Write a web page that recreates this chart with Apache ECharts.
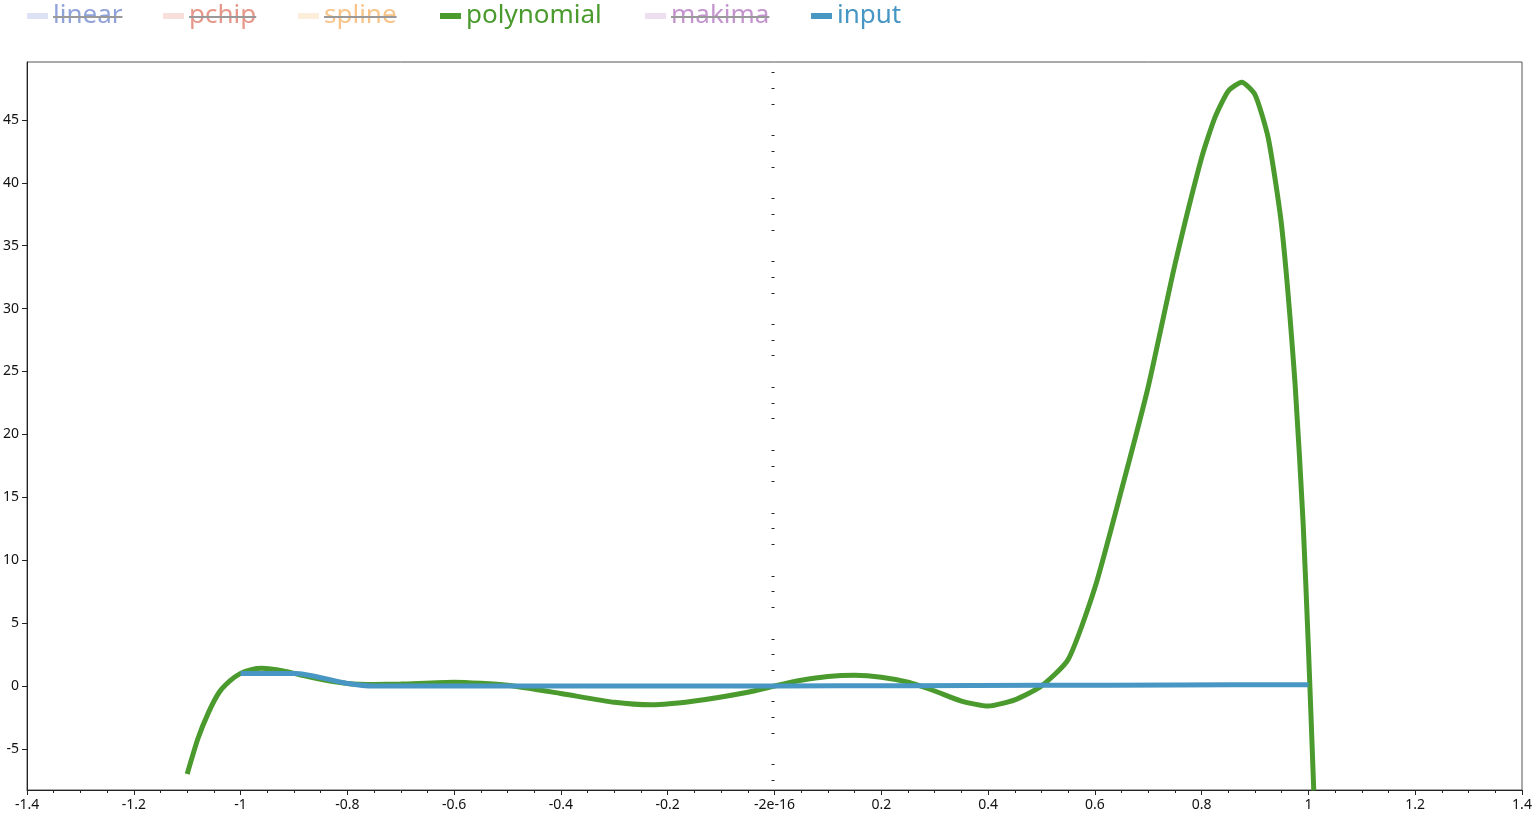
<!DOCTYPE html><html><head><meta charset="utf-8"><script src="https://cdn.jsdelivr.net/npm/echarts@6/dist/echarts.min.js"></script>
<style>html,body{margin:0;padding:0;background:#fff}#c{width:1536px;height:818px}</style></head><body><div id="c"></div><script>
const inputX=[-1,-0.9,-0.8,-0.75,-0.5,-0.25,0,0.25,0.5,0.75,1];
const inputY=[1,1,0.2,0,0,0,0,0.02,0.05,0.08,0.1];
const polyX=[-1.1,-1.08,-1.06,-1.04,-1.02,-1,-0.98,-0.96,-0.92,-0.88,-0.84,-0.8,-0.75,-0.7,-0.6,-0.5,-0.4,-0.3,-0.23,-0.15,-0.05,0,0.05,0.1,0.15,0.2,0.25,0.3,0.35,0.4,0.45,0.5,0.55,0.6,0.65,0.7,0.75,0.8,0.825,0.85,0.875,0.9,0.925,0.95,0.975,0.99,1,1.01];
const polyY=[-7.0,-4.2,-2.1,-0.5,0.4,1.0,1.3,1.4,1.2,0.8,0.45,0.2,0.12,0.15,0.3,0.05,-0.6,-1.3,-1.5,-1.2,-0.5,0,0.45,0.75,0.85,0.7,0.3,-0.4,-1.2,-1.6,-1.1,0,2.1,7.8,15.6,23.8,33.5,42.0,45.2,47.3,48.0,47.0,43.5,36.5,24.0,13.0,3.0,-8.3];
const yMajor=[-5,0,5,10,15,20,25,30,35,40,45];
const yMinor=[-7.5,-6.25,-3.75,-2.5,-1.25,1.25,2.5,3.75,6.25,7.5,8.75,11.25,12.5,13.75,16.25,17.5,18.75,21.25,22.5,23.75,26.25,27.5,28.75,31.25,32.5,33.75,36.25,37.5,38.75,41.25,42.5,43.75,46.25,47.5,48.75];
const legendNames=['linear','pchip','spline','polynomial','makima','input'];
const legendColors=['#5470c6','#d95f4b','#f5a54a','#4a9a2e','#a45bb5','#4796c4'];
const legendOn=[false,false,false,true,false,true];
const legendX=[27,163,298,440,645,811];
const chart=echarts.init(document.getElementById('c'));
const gfx=[];
const ctx=document.createElement('canvas').getContext('2d');ctx.font='26px "Noto Sans"';
legendNames.forEach((n,i)=>{
 const on=legendOn[i];
 gfx.push({type:'rect',shape:{x:legendX[i],y:13,width:21,height:6},style:{fill:legendColors[i],opacity:on?1:0.2}});
 gfx.push({type:'text',x:legendX[i]+26,y:16,style:{text:n,font:'26px "Noto Sans"',fill:legendColors[i],opacity:on?1:0.65,verticalAlign:'middle'}});
 if(!on){const w=ctx.measureText(n).width;gfx.push({type:'line',shape:{x1:legendX[i]+26,y1:17,x2:legendX[i]+26+w,y2:17},style:{stroke:'#999',lineWidth:2}});}
});
const fmt=v=>{if(Math.abs(v)<1e-9)return '-2e-16';return String(+v.toFixed(2));};
const lab={color:'#111',fontSize:14,fontFamily:'Noto Sans'};
chart.setOption({
 animation:false,
 grid:{left:27,right:14,top:62,bottom:28,show:true,borderColor:'#555',borderWidth:1},
 xAxis:{type:'value',min:-1.4,max:1.4,interval:0.2,axisLine:{lineStyle:{color:'#222'},onZero:false},axisTick:{lineStyle:{color:'#222'},length:5},minorTick:{show:true,splitNumber:4,length:3,lineStyle:{color:'#222'}},splitLine:{show:false},axisLabel:Object.assign({formatter:fmt},lab)},
 yAxis:[
  {type:'value',min:-8.27,max:49.6,axisLine:{show:true,lineStyle:{color:'#222'},onZero:false},axisTick:{show:true,length:5,lineStyle:{color:'#222'},customValues:yMajor},splitLine:{show:false},axisLabel:Object.assign({customValues:yMajor},lab)},
  {type:'value',position:'left',min:-8.27,max:49.6,axisLine:{show:false},axisTick:{show:true,length:3,lineStyle:{color:'#222'},customValues:yMinor},splitLine:{show:false},axisLabel:{show:false,customValues:yMinor}}
 ],
 series:[
  {name:'polynomial',type:'line',data:polyX.map((x,i)=>[x,polyY[i]]),smooth:0.2,showSymbol:false,lineStyle:{color:'#4a9a2e',width:5}},
  {name:'input',type:'line',data:inputX.map((x,i)=>[x,inputY[i]]),smooth:0.3,showSymbol:false,lineStyle:{color:'#4796c4',width:5}}
 ],
 graphic:gfx
});
</script></body></html>
